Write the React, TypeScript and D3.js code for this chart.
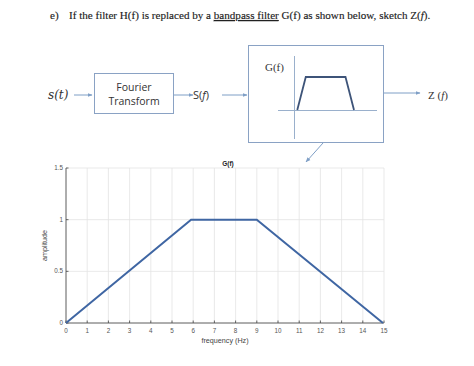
import React from "react";
import * as d3 from "d3";

const freq = [0, 5.9, 9, 14.95];
const amp = [0, 1, 1, 0];
const xTicks = d3.range(0, 16);
const yTicks = [0, 0.5, 1, 1.5];
const yTickLabels = ["0", "0.5", "1", "1.5"];
const trapX = [0, 0.15, 0.85, 1];
const trapY = [0, 1, 1, 0];

export default function App() {
  const W = 474, H = 366;
  const x = d3.scaleLinear().domain([0, 15]).range([66, 384]);
  const y = d3.scaleLinear().domain([0, 1.5]).range([323, 168]);
  const line = d3.line<number>().x((_, i) => x(freq[i])).y((d) => y(d));
  const tx = d3.scaleLinear().domain([-0.04, 1]).range([295, 354]);
  const ty = d3.scaleLinear().domain([0, 1]).range([110, 77]);
  const trap = d3.line<number>().x((_, i) => tx(trapX[i])).y((d) => ty(d));
  const axC = "#7f9fc6";
  const tick = "#555";
  return (
    <svg width={W} height={H} style={{ position: "absolute", left: 0, top: 0, background: "#fff" }}>
      <defs>
        <marker id="ah" viewBox="0 0 10 10" refX="9" refY="5" markerWidth="5" markerHeight="5" orient="auto">
          <path d="M0,1 L10,5 L0,9 z" fill={axC} />
        </marker>
      </defs>
      <text x={50} y={19} fontFamily="Liberation Serif, serif" fontSize={11.1} fill="#222" stroke="#222" strokeWidth={0.15}>
        <tspan>e)</tspan>
        <tspan x={69}>If the filter H(f) is replaced by a </tspan>
        <tspan textDecoration="underline">bandpass filter</tspan>
        <tspan> G(f) as shown below, sketch Z(</tspan>
        <tspan fontStyle="italic">f</tspan>
        <tspan>).</tspan>
      </text>

      {/* block diagram */}
      <text x={48} y={99} fontFamily="DejaVu Serif, serif" fontStyle="italic" fontSize={12} fill="#333">s(t)</text>
      <line x1={74} y1={95} x2={92} y2={95} stroke={axC} strokeWidth={1} markerEnd="url(#ah)" />
      <rect x={94.5} y={73.5} width={79} height={40} fill="none" stroke="#8aa2c4" strokeWidth={1} />
      <text x={134} y={91} textAnchor="middle" fontFamily="Open Sans, sans-serif" fontSize={10.5} fill="#333">Fourier</text>
      <text x={134} y={105} textAnchor="middle" fontFamily="Open Sans, sans-serif" fontSize={10.5} fill="#333">Transform</text>
      <line x1={174} y1={95} x2={193} y2={95} stroke={axC} strokeWidth={1} markerEnd="url(#ah)" />
      <text x={193} y={99} fontFamily="Open Sans, sans-serif" fontSize={11} fill="#333">S(<tspan fontStyle="italic">f</tspan>)</text>
      <line x1={222} y1={95} x2={247} y2={95} stroke={axC} strokeWidth={1} markerEnd="url(#ah)" />
      <rect x={248.5} y={45.5} width={135} height={97} fill="none" stroke="#8aa2c4" strokeWidth={1} />
      <text x={265} y={71} fontFamily="Liberation Serif, serif" fontSize={11} fill="#333">G(f)</text>
      <line x1={294.5} y1={56} x2={294.5} y2={139} stroke="#9ab0cc" strokeWidth={1} />
      <line x1={278} y1={110.5} x2={377} y2={110.5} stroke="#9ab0cc" strokeWidth={1} />
      <path d={trap(trapY) || ""} fill="none" stroke="#3e5479" strokeWidth={1.8} />
      <line x1={384} y1={93} x2={420} y2={93} stroke={axC} strokeWidth={1} markerEnd="url(#ah)" />
      <text x={428} y={99} fontFamily="Liberation Serif, serif" fontSize={11} fill="#333">Z (<tspan fontStyle="italic">f</tspan>)</text>
      <line x1={323} y1={143} x2={306} y2={162} stroke={axC} strokeWidth={1} markerEnd="url(#ah)" />

      {/* plot */}
      {xTicks.map((t) => (
        <line key={"gx" + t} x1={x(t)} x2={x(t)} y1={y(1.5)} y2={y(0)} stroke="#e3e3e3" strokeWidth={0.8} />
      ))}
      {yTicks.map((t) => (
        <line key={"gy" + t} x1={x(0)} x2={x(15)} y1={y(t)} y2={y(t)} stroke="#e3e3e3" strokeWidth={0.8} />
      ))}
      <line x1={x(0)} x2={x(0)} y1={y(1.5)} y2={y(0)} stroke="#444" strokeWidth={0.8} />
      <line x1={x(0)} x2={x(15)} y1={y(0)} y2={y(0)} stroke="#444" strokeWidth={0.8} />
      {xTicks.map((t) => (
        <g key={"xt" + t}>
          <line x1={x(t)} x2={x(t)} y1={y(0)} y2={y(0) - 2.5} stroke="#444" strokeWidth={0.8} />
          <text x={x(t)} y={y(0) + 10} textAnchor="middle" fontFamily="Liberation Sans, Arial, sans-serif" fontSize={6.3} fill={tick}>{t}</text>
        </g>
      ))}
      {yTicks.map((t, i) => (
        <g key={"yt" + t}>
          <line x1={x(0)} x2={x(0) + 2.5} y1={y(t)} y2={y(t)} stroke="#444" strokeWidth={0.8} />
          <text x={x(0) - 3} y={y(t) + 2} textAnchor="end" fontFamily="Liberation Sans, Arial, sans-serif" fontSize={6.3} fill={tick}>{yTickLabels[i]}</text>
        </g>
      ))}
      <path d={line(amp) || ""} fill="none" stroke="#3f66a3" strokeWidth={2} />
      <text x={228} y={166} textAnchor="middle" fontFamily="Liberation Sans, Arial, sans-serif" fontWeight="bold" fontSize={6.5} fill="#222">G(f)</text>
      <text x={225} y={343} textAnchor="middle" fontFamily="Liberation Sans, Arial, sans-serif" fontSize={7.2} fill="#444">frequency (Hz)</text>
      <text transform={`translate(47,${y(0.75)}) rotate(-90)`} textAnchor="middle" fontFamily="Liberation Sans, Arial, sans-serif" fontSize={7.2} fill="#444">amplitude</text>
    </svg>
  );
}
